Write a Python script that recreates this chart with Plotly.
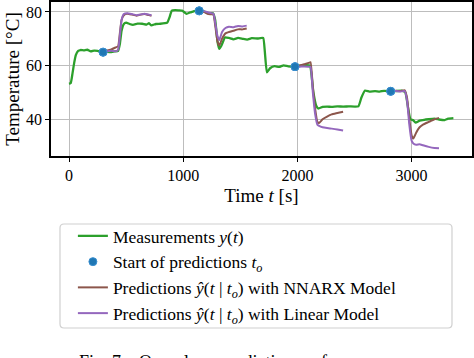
import plotly.graph_objects as go

# Measurements y(t)
meas_t = [0, 15, 30, 45, 60, 80, 100, 130, 160, 190, 220, 250, 298, 320, 360, 400, 430,
          445, 460, 480, 500, 530, 560, 600, 640, 680, 700, 720, 760, 800, 840, 860, 880,
          900, 930, 960, 990, 1030, 1060, 1090, 1110, 1140, 1180, 1220, 1260, 1280, 1300,
          1316, 1335, 1366, 1400, 1440, 1480, 1520, 1560, 1600, 1650, 1700, 1715, 1733,
          1760, 1800, 1840, 1880, 1920, 1979, 2020, 2080, 2110, 2140, 2165, 2183, 2220,
          2260, 2300, 2350, 2400, 2450, 2534, 2560, 2592, 2630, 2680, 2720, 2760, 2817,
          2860, 2920, 2945, 2970, 2990, 3015, 3035, 3070, 3110, 3150, 3200, 3240, 3290,
          3320, 3366]
meas_y = [53.2, 53.5, 57, 61, 64, 65.5, 65.8, 65.7, 65.9, 65.3, 65.6, 65.5, 65.0, 65.2,
          65.0, 65.3, 65.5, 68, 73, 75.5, 76, 75.5, 75.2, 75.6, 75.6, 75.3, 75.8, 75.0,
          75.5, 75.6, 75.8, 76, 78, 80.5, 80.7, 80.6, 80.5, 79.3, 79.8, 80.2, 80.5, 80.4,
          80.2, 79.5, 79.5, 77, 69, 66.2, 67.5, 70.5, 70.3, 69.8, 70.3, 70.0, 69.7, 70.2,
          70.1, 70.3, 65, 57.5, 59, 59.8, 59.5, 60.1, 59.7, 59.6, 60, 60.2, 60, 50, 45, 44,
          44.6, 44.7, 44.6, 44.8, 44.7, 44.8, 44.8, 48, 50.7, 50.3, 50.5, 50.3, 50.6, 50.4,
          50.5, 50.6, 50, 44, 40, 39.6, 38.7, 39.5, 39.8, 40, 40.2, 39.9, 39.7, 40.2, 40.4]

# Start of predictions t_o
start_t = [298, 1140, 1979, 2817]
start_y = [65.0, 80.4, 59.6, 50.4]

# NNARX predictions (segments separated by None)
nnarx_t = [298, 330, 370, 410, 430, 445, 460, 480, 510, 550, 590, 620, 660, 700, 722, None,
           1140, 1180, 1220, 1264, 1280, 1300, 1316, 1340, 1370, 1400, 1440, 1480, 1520, 1556, None,
           1979, 2020, 2060, 2100, 2115, 2135, 2155, 2175, 2190, 2220, 2260, 2300, 2350, 2400, None,
           2817, 2860, 2900, 2940, 2960, 2980, 3000, 3015, 3040, 3070, 3100, 3150, 3200, 3240]
nnarx_y = [65, 65.5, 66, 66.8, 67.2, 72, 77, 78.8, 79.3, 79.0, 78.6, 78.9, 79.2, 78.8, 78.6, None,
           80.4, 80, 79.2, 79, 75, 69, 67.5, 70, 72, 72.5, 73, 73.5, 73.5, 73.8, None,
           59.6, 60, 60.5, 61, 61.3, 52, 44, 39, 38.6, 40, 41, 41.8, 42.3, 42.8, None,
           50.4, 50.6, 50.5, 50.8, 48, 40, 34, 32.8, 35, 37, 38, 39, 40, 40.5]

# Linear model predictions
lin_t = [298, 330, 370, 410, 430, 445, 460, 480, 510, 550, 590, 620, 660, 700, 722, None,
         1140, 1180, 1220, 1264, 1280, 1300, 1316, 1340, 1370, 1400, 1440, 1480, 1520, 1556, None,
         1979, 2020, 2060, 2100, 2115, 2135, 2155, 2175, 2190, 2220, 2260, 2300, 2350, 2400, None,
         2817, 2860, 2900, 2940, 2960, 2980, 3000, 3015, 3040, 3070, 3100, 3150, 3200, 3240]
lin_y = [65, 65.3, 65.5, 65.3, 66, 71, 77, 79.2, 79.5, 79.2, 78.8, 79.0, 79.3, 79.0, 78.8, None,
         80.4, 80.3, 79.8, 79.3, 76, 71, 69.5, 72.5, 74, 74.5, 74.3, 74.8, 74.6, 74.9, None,
         59.6, 59.6, 59.7, 59.6, 59.5, 50, 42, 38, 37.5, 37, 36.7, 36.5, 36.2, 35.8, None,
         50.4, 50.5, 50.3, 50.5, 47, 38, 32, 31, 30.5, 30.7, 30.3, 29.7, 29.3, 29.2]

x_ticks = [0, 1000, 2000, 3000]
y_ticks = [40, 60, 80]

FONT = "Liberation Serif"

fig = go.Figure()
fig.add_trace(go.Scatter(x=meas_t, y=meas_y, mode="lines",
                         line=dict(color="#2ca02c", width=2.3, shape="spline", smoothing=0.4),
                         name="Measurements <i>y</i>(<i>t</i>)"))
fig.add_trace(go.Scatter(x=start_t, y=start_y, mode="markers",
                         marker=dict(color="#1f77b4", size=8, line=dict(color="#3a8fd0", width=1)),
                         name="Start of predictions <i>t<sub>o</sub></i>"))
fig.add_trace(go.Scatter(x=nnarx_t, y=nnarx_y, mode="lines",
                         line=dict(color="#8c564b", width=2, shape="spline", smoothing=0.4),
                         name="Predictions <i>ŷ</i>(<i>t</i> | <i>t<sub>o</sub></i>) with NNARX Model"))
fig.add_trace(go.Scatter(x=lin_t, y=lin_y, mode="lines",
                         line=dict(color="#9467bd", width=2, shape="spline", smoothing=0.4),
                         name="Predictions <i>ŷ</i>(<i>t</i> | <i>t<sub>o</sub></i>) with Linear Model"))
# redraw markers on top
fig.add_trace(go.Scatter(x=start_t, y=start_y, mode="markers", showlegend=False,
                         marker=dict(color="#1f77b4", size=8, line=dict(color="#3a8fd0", width=1))))

# legend frame (rounded rectangle) in paper coordinates
L_W, L_H = 421.0, 154.0
TOP = 2
def py(p):
    return (TOP + L_H - p) / L_H
x0, x1 = (60 - 51) / L_W, (452 - 51) / L_W
y0, y1 = py(328), py(224)
rx, ry = 4 / L_W, 4 / L_H
path = (f"M {x0+rx},{y1} L {x1-rx},{y1} Q {x1},{y1} {x1},{y1-ry} "
        f"L {x1},{y0+ry} Q {x1},{y0} {x1-rx},{y0} L {x0+rx},{y0} "
        f"Q {x0},{y0} {x0},{y0+ry} L {x0},{y1-ry} Q {x0},{y1} {x0+rx},{y1} Z")
fig.add_shape(type="path", path=path, xref="paper", yref="paper",
              line=dict(color="#d0d0d0", width=1.2), fillcolor="rgba(0,0,0,0)", layer="above")

fig.update_layout(
    width=474, height=358,
    margin=dict(l=51, r=2, t=TOP, b=358 - TOP - L_H, autoexpand=False),
    paper_bgcolor="white", plot_bgcolor="white",
    font=dict(family=FONT, size=16, color="black"),
    showlegend=True,
    legend=dict(x=0.052, y=py(218), xanchor="left", yanchor="top",
                borderwidth=0, bgcolor="rgba(0,0,0,0)",
                font=dict(family=FONT, size=17.5), tracegroupgap=0),
    xaxis=dict(range=[-158, 3529], tickvals=x_ticks, ticktext=[str(v) for v in x_ticks],
               showgrid=True, gridcolor="#bdbdbd", gridwidth=1.2, automargin=False,
               showline=True, linecolor="black", linewidth=1.8, mirror=True,
               ticks="outside", ticklen=4, tickcolor="black", zeroline=False,
               title=dict(text="Time <i>t</i> [s]", standoff=6)),
    yaxis=dict(range=[26.3, 83.7], tickvals=y_ticks, ticktext=[str(v) for v in y_ticks],
               showgrid=True, gridcolor="#bdbdbd", gridwidth=1.2, automargin=False,
               showline=True, linecolor="black", linewidth=1.8, mirror=True,
               ticks="outside", ticklen=4, tickcolor="black", zeroline=False,
               title=dict(text="Temperature [°C]", standoff=1)),
)
fig.add_annotation(text="Fig. 7.   Open-loop prediction performance.", xref="paper", yref="paper",
                   x=0.439, y=py(350), xanchor="center", yanchor="top", showarrow=False,
                   font=dict(family=FONT, size=18, color="black"))

fig.write_html("out.html", config={"displayModeBar": False},
               post_script="document.body.style.margin='0';")
